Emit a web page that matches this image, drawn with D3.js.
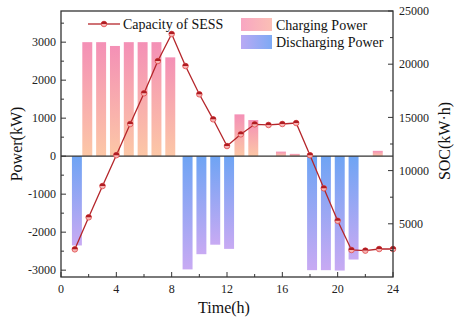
<!DOCTYPE html>
<html>
<head>
<meta charset="utf-8">
<script src="https://cdn.jsdelivr.net/npm/d3@7"></script>
<style>
  html, body { margin: 0; padding: 0; background: #fff; }
  svg { display: block; font-family: "Liberation Serif", "Times New Roman", serif; }
</style>
</head>
<body>
<svg id="chart" width="474" height="323"></svg>
<script>
// ---- data ----
const hours = [1,2,3,4,5,6,7,8,9,10,11,12,13,14,15,16,17,18,19,20,21,22,23,24];
const chargeHours = [2,3,4,5,6,7,8,13,14,16,17,23];
const chargePower = [3000,3000,2900,3000,3000,3000,2600,1100,950,120,60,140];
const dischargeHours = [1,9,10,11,12,18,19,20,21];
const dischargePower = [-2350,-2980,-2580,-2330,-2440,-3000,-3000,-3010,-2720];
const socValues = [2600,5610,8550,11450,14380,17270,20300,22840,19830,17170,14820,12310,
                   13410,14350,14290,14380,14470,11450,8340,5290,2540,2480,2630,2630];
const leftTicks = [-3000,-2000,-1000,0,1000,2000,3000];
const rightTicks = [5000,10000,15000,20000,25000];
const xTicks = [0,4,8,12,16,20,24];
const seriesNames = ["Capacity of SESS", "Charging Power", "Discharging Power"];

// ---- layout ----
const svg = d3.select("#chart");
const L = 61, R = 393, T = 11, B = 277;
const x = d3.scaleLinear().domain([0,24]).range([L,R]);
const yL = d3.scaleLinear().domain([-3180,3820]).range([B,T]);
const yR = d3.scaleLinear().domain([0,25000]).range([B,T]);
const barW = x(0.72) - x(0);
const chargeOffset = -0.1, dischargeOffset = 0.15;
const axisColor = "#333";

// gradients
const defs = svg.append("defs");
function grad(id, x2, y2, stops) {
  const g = defs.append("linearGradient").attr("id", id)
    .attr("x1",0).attr("y1",0).attr("x2",x2).attr("y2",y2);
  stops.forEach(s => g.append("stop").attr("offset", s[0]).attr("stop-color", s[1]));
}
grad("gCharge", 0, 1, [[0,"#f490b6"],[1,"#fcc7a6"]]);
grad("gDischarge", 0, 1, [[0,"#6ea4f4"],[1,"#c8aaf3"]]);
grad("gChargeLeg", 1, 0, [[0,"#f8a6c2"],[1,"#fbbfb5"]]);
grad("gDischargeLeg", 1, 0, [[0,"#b9a9f4"],[1,"#7eaaf4"]]);

// bars
svg.append("g").selectAll("rect").data(chargeHours.map((h,i)=>({h, v: chargePower[i]})))
  .join("rect")
  .attr("x", d => x(d.h + chargeOffset) - barW/2)
  .attr("width", barW)
  .attr("y", d => yL(d.v))
  .attr("height", d => yL(0) - yL(d.v))
  .attr("fill", "url(#gCharge)");
svg.append("g").selectAll("rect").data(dischargeHours.map((h,i)=>({h, v: dischargePower[i]})))
  .join("rect")
  .attr("x", d => x(d.h + dischargeOffset) - barW/2)
  .attr("width", barW)
  .attr("y", yL(0))
  .attr("height", d => yL(d.v) - yL(0))
  .attr("fill", "url(#gDischarge)");

// zero line
svg.append("line").attr("x1", L).attr("x2", R).attr("y1", yL(0)).attr("y2", yL(0))
  .attr("stroke", axisColor).attr("stroke-width", 1.2);

// SOC line
const socData = hours.map((h,i)=>({h, v: socValues[i]}));
svg.append("path").datum(socData)
  .attr("d", d3.line().x(d=>x(d.h)).y(d=>yR(d.v)))
  .attr("fill","none").attr("stroke","#b5262b").attr("stroke-width",1.3);
function marker(g, cx, cy) {
  g.append("circle").attr("cx",cx).attr("cy",cy).attr("r",2.8)
    .attr("fill","#f6b4b4").attr("stroke","#e04a4a").attr("stroke-width",0.8);
  g.append("path")
    .attr("d", `M${cx-2.8},${cy} A2.8,2.8 0 0 1 ${cx+2.8},${cy} Z`)
    .attr("fill","#b01c22");
}
const mg = svg.append("g");
socData.forEach(d => marker(mg, x(d.h), yR(d.v)));

// frame
svg.append("rect").attr("x",L).attr("y",T).attr("width",R-L).attr("height",B-T)
  .attr("fill","none").attr("stroke",axisColor).attr("stroke-width",1.3);

// axes (inward ticks)
const fs = "12px";
const ax = svg.append("g").attr("font-size", fs).attr("fill","#222");
// left
d3.range(-3000, 3501, 500).forEach(v => {
  const major = v % 1000 === 0;
  svg.append("line").attr("x1",L).attr("x2",L+(major?5:3)).attr("y1",yL(v)).attr("y2",yL(v))
    .attr("stroke",axisColor).attr("stroke-width",1);
});
leftTicks.forEach(v => {
  ax.append("text").attr("x", L-5).attr("y", yL(v)).attr("dy","0.35em")
    .attr("text-anchor","end").text(v);
});
// right
d3.range(2500, 25001, 2500).forEach(v => {
  const major = v % 5000 === 0;
  svg.append("line").attr("x1",R).attr("x2",R-(major?5:3)).attr("y1",yR(v)).attr("y2",yR(v))
    .attr("stroke",axisColor).attr("stroke-width",1);
});
rightTicks.forEach(v => {
  ax.append("text").attr("x", R+6).attr("y", yR(v)).attr("dy","0.35em")
    .attr("text-anchor","start").text(v);
});
// bottom
d3.range(0, 25, 2).forEach(v => {
  const major = v % 4 === 0;
  svg.append("line").attr("x1",x(v)).attr("x2",x(v)).attr("y1",B).attr("y2",B-(major?5:3))
    .attr("stroke",axisColor).attr("stroke-width",1);
});
xTicks.forEach(v => {
  ax.append("text").attr("x", x(v)).attr("y", B+16)
    .attr("text-anchor","middle").text(v);
});

// titles
svg.append("text").attr("x", (L+R)/2 - 3).attr("y", 313).attr("text-anchor","middle")
  .attr("font-size","16px").attr("fill","#111").text("Time(h)");
svg.append("text").attr("transform", `translate(22,${(T+B)/2}) rotate(-90)`)
  .attr("text-anchor","middle").attr("font-size","16px").attr("fill","#111").text("Power(kW)");
svg.append("text").attr("transform", `translate(450,${(T+B)/2-3}) rotate(-90)`)
  .attr("text-anchor","middle").attr("font-size","16px").attr("fill","#111").text("SOC(kW·h)");

// legend
const lg = svg.append("g").attr("font-size","14px").attr("fill","#111");
lg.append("line").attr("x1",88).attr("x2",120).attr("y1",24).attr("y2",24)
  .attr("stroke","#b5262b").attr("stroke-width",1.3);
marker(lg, 104, 24);
lg.append("text").attr("x",123).attr("y",24).attr("dy","0.35em").text(seriesNames[0]);
lg.append("rect").attr("x",241).attr("y",18).attr("width",31).attr("height",13).attr("fill","url(#gChargeLeg)");
lg.append("text").attr("x",276).attr("y",25).attr("dy","0.35em").text(seriesNames[1]);
lg.append("rect").attr("x",241).attr("y",35).attr("width",31).attr("height",14).attr("fill","url(#gDischargeLeg)");
lg.append("text").attr("x",276).attr("y",42.5).attr("dy","0.35em").text(seriesNames[2]);
</script>
</body>
</html>
